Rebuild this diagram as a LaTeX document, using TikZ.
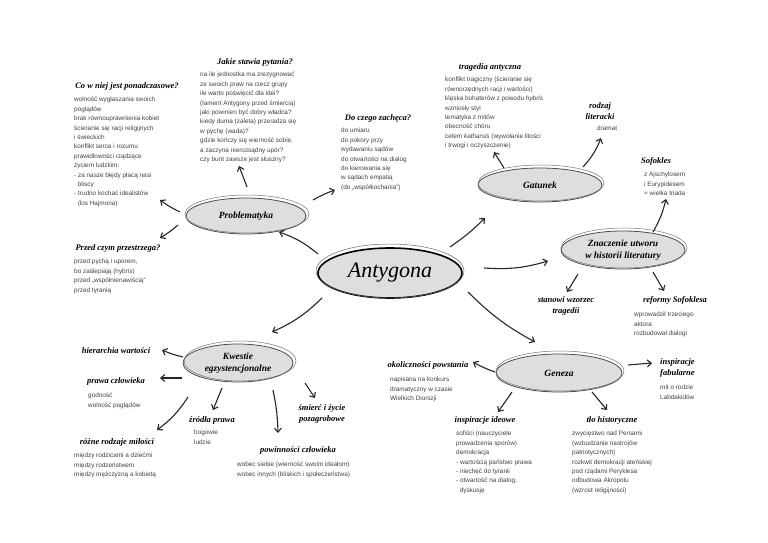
\documentclass[tikz,border=0pt]{standalone}
\usepackage{fontspec}
\setmainfont{Liberation Sans}
\newfontfamily\hfont{Liberation Serif}
\usetikzlibrary{shapes.geometric,arrows.meta}
\begin{document}
\begin{tikzpicture}[x=1pt,y=-1pt,
  body/.style={anchor=north west,align=left,font=\fontsize{6.4}{9.4}\selectfont,text=black!75,inner sep=0pt},
  head/.style={font=\hfont\bfseries\itshape\fontsize{8.5}{11.5}\selectfont,align=center,inner sep=1pt},
  topic/.style={ellipse,draw=black!70,line width=0.8pt,fill=black!13,font=\hfont\bfseries\itshape\fontsize{9.5}{11.5}\selectfont,align=center,inner sep=0pt},
  arr/.style={-{Straight Barb[length=4pt,width=7pt]},line width=1.1pt,black!85}]
\useasboundingbox (0,0) rectangle (768,543);
% central
\node[ellipse,draw=black,line width=1.6pt,fill=black!13,minimum width=144pt,minimum height=50pt,font=\hfont\itshape\fontsize{22}{24}\selectfont] (A) at (390,273) {Antygona};
\draw[black!60,line width=0.5pt] (390,271) ellipse (74pt and 27pt);
% topics
\node[topic,minimum width=120pt,minimum height=36pt] (P) at (246,216) {Problematyka};
\node[topic,minimum width=124pt,minimum height=34pt] (G) at (540,185) {Gatunek};
\node[topic,minimum width=124pt,minimum height=38pt] (Z) at (623,250) {Znaczenie utworu\\w historii literatury};
\node[topic,minimum width=110pt,minimum height=38pt] (K) at (238,363) {Kwestie\\egzystencjonalne};
\node[topic,minimum width=126pt,minimum height=38pt] (N) at (559,373) {Geneza};
\foreach \c/\x/\y/\a/\b in {P/247/214/62/19,G/541/183/63/18,Z/624/248/63/20,K/240/361/56/20,N/560/371/64/20}
  \draw[black!55,line width=0.5pt] (\x,\y) ellipse (\a pt and \b pt);
% Problematyka
\node[head] (h1) at (127,86) {Co w niej jest ponadczasowe?};
\node[body] (b1) at (74,97) {wolność wygłaszania swoich\\poglądów\\brak równouprawnienia kobiet\\ścieranie się racji religijnych\\i świeckich\\konflikt serca i rozumu\\prawidłowości rządzące\\życiem ludzkim:\\- za nasze błędy płacą nasi\\\ \ bliscy\\- trudno kochać idealistów\\\ \ (los Hajmona)};
\node[head] (h2) at (255,62) {Jakie stawia pytania?};
\node[body] (b2) at (200,72) {na ile jednostka ma zrezygnować\\ze swoich praw na rzecz grupy\\ile warto poświęcić dla idei?\\(lament Antygony przed śmiercią)\\jaki powinien być dobry władca?\\kiedy duma (zaleta) przeradza się\\w pychę (wada)?\\gdzie kończy się wierność sobie,\\a zaczyna nierozsądny upór?\\czy bunt zawsze jest słuszny?};
\node[head] (h3) at (378,118) {Do czego zachęca?};
\node[body] (b3) at (341,128) {do umiaru\\do pokory przy\\wydawaniu sądów\\do otwartości na dialog\\do kierowania się\\w sądach empatią\\(do „współkochania”)};
\node[head] (h4) at (118,248) {Przed czym przestrzega?};
\node[body] (b4) at (74,259) {przed pychą i uporem,\\bo zaślepiają (hybris)\\przed „współnienawiścią”\\przed tyranią};
% Gatunek
\node[head] (h5) at (490,67) {tragedia antyczna};
\node[body] (b5) at (445,77) {konflikt tragiczny (ścieranie się\\równorzędnych racji i wartości)\\klęska bohaterów z powodu \textit{hybris}\\wzniosły styl\\tematyka z mitów\\obecność chóru\\celem \textit{katharsis} (wywołanie litości\\i trwogi i oczyszczenie)};
\node[head] (h6) at (600,111) {rodzaj\\literacki};
\node[body] (b6) at (597,126) {dramat};
% Znaczenie
\node[head] (h7) at (656,161) {Sofokles};
\node[body] (b7) at (644,172) {z Ajschylosem\\i Eurypidesem\\= wielka triada};
\node[head] (h8) at (566,306) {stanowi wzorzec\\tragedii};
\node[head] (h9) at (675,300) {reformy Sofoklesa};
\node[body] (b9) at (634,312) {wprowadził trzeciego\\aktora\\rozbudował dialogi};
% Kwestie
\node[head] (h10) at (116,351) {hierarchia wartości};
\node[head] (h11) at (116,381) {prawa człowieka};
\node[body] (b11) at (88,393) {godność\\wolność poglądów};
\node[head] (h12) at (212,420) {źródła prawa};
\node[body] (b12) at (194,430) {bogowie\\ludzie};
\node[head] (h13) at (322,414) {śmierć i życie\\pozagrobowe};
\node[head] (h14) at (117,442) {różne rodzaje miłości};
\node[body] (b14) at (74,453) {między rodzicami a dziećmi\\między rodzeństwem\\między mężczyzną a kobietą};
\node[head] (h15) at (298,450) {powinności człowieka};
\node[body] (b15) at (237,462) {wobec siebie (wierność swoim ideałom)\\wobec innych (bliskich i społeczeństwa)};
% Geneza
\node[head] (h16) at (428,365) {okoliczności powstania};
\node[body] (b16) at (390,377) {napisana na konkurs\\dramatyczny w czasie\\Wielkich Dionizji};
\node[head,anchor=north west] (h17) at (659,357) {inspiracje\\fabularne};
\node[body] (b17) at (660,385) {mit o rodzie\\Labdakidów};
\node[head] (h18) at (485,420) {inspiracje ideowe};
\node[body] (b18) at (456,431) {sofiści (nauczyciele\\prowadzenia sporów)\\demokracja\\- wartością państwo prawa\\- niechęć do tyranii\\- otwartość na dialog,\\\ \ dyskusję};
\node[head] (h19) at (612,420) {tło historyczne};
\node[body] (b19) at (572,431) {zwycięstwo nad Persami\\(wzbudzanie nastrojów\\patriotycznych)\\rozkwit demokracji ateńskiej\\pod rządami Peryklesa\\odbudowa Akropolu\\(wzrost religijności)};
% arrows
\foreach \sx/\sy/\ex/\ey/\bd in {
  318/254/279/232/-10, 450/247/485/218/-5, 484/268/548/261/-10, 322/298/272/332/10, 468/292/535/342/-8,
  180/212/160/200/5, 247/187/239/166/0, 313/200/335/190/5, 178/225/160/238/5,
  504/168/494/152/0, 583/167/601/138/-10,
  653/232/666/199/-8, 578/274/567/292/0, 653/272/664/291/0,
  183/357/162/350/5, 182/378/160/378/0, 188/397/157/430/10, 222/388/213/410/0, 273/390/278/433/5, 305/383/315/398/0,
  495/372/473/362/5, 628/365/652/363/0, 512/392/498/412/0, 592/392/607/410/0}
  \draw[arr] (\sx,\sy) to[bend left=\bd] (\ex,\ey);
\end{tikzpicture}
\end{document}
